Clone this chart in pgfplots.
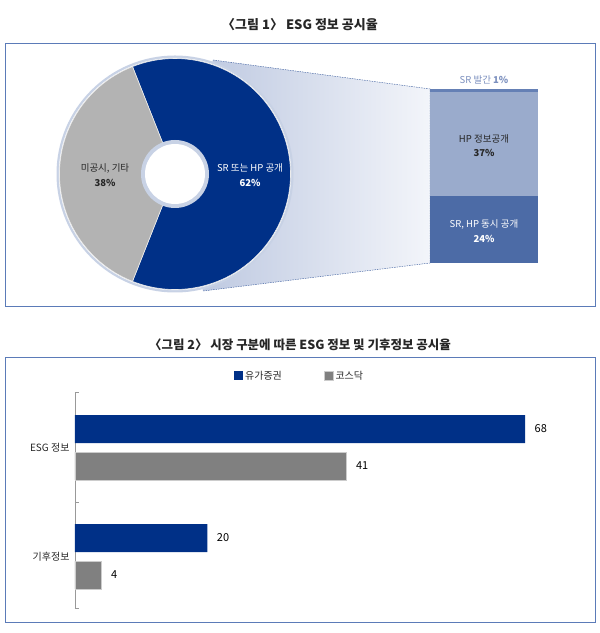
\documentclass[border=0pt]{standalone}
\usepackage{pgfplots}
\pgfplotsset{compat=1.18}
\usepackage{fontspec}
\setmainfont{Noto Sans CJK KR}
\definecolor{navy}{RGB}{0,48,135}
\definecolor{slicegrey}{RGB}{179,179,179}
\definecolor{ringc}{RGB}{200,210,229}
\definecolor{stkdark}{RGB}{76,107,166}
\definecolor{stklight}{RGB}{154,171,204}
\definecolor{stktop}{RGB}{101,128,181}
\definecolor{framec}{RGB}{91,123,184}
\definecolor{shadeL}{RGB}{184,196,222}
\definecolor{shadeR}{RGB}{243,245,250}
\definecolor{dashc}{RGB}{80,110,168}
\definecolor{srlab}{RGB}{123,143,190}
\definecolor{darktext}{RGB}{38,38,38}
\definecolor{kosdaq}{RGB}{128,128,128}

\begin{document}
\begin{tikzpicture}[x=1pt,y=1pt]
\useasboundingbox (0,0) rectangle (600,633);
% frames and titles
\draw[framec, line width=0.9pt] (5,327) rectangle (595,590);
\draw[framec, line width=0.9pt] (5,11) rectangle (595,276);
\node[font=\bfseries\fontsize{13}{15}\selectfont, text=darktext] at (300,608) {〈그림 1〉 ESG 정보 공시율};
\node[font=\bfseries\fontsize{12.5}{15}\selectfont, text=darktext] at (300,288) {〈그림 2〉 시장 구분에 따른 ESG 정보 및 기후정보 공시율};

% ---------- donut ----------
\pgfmathsetmacro{\disclosed}{62}
\pgfmathsetmacro{\ha}{\disclosed*1.8}
\pgfmathsetmacro{\hb}{360-\ha}
\begin{axis}[at={(0pt,0pt)}, anchor=south west, scale only axis,
  width=600pt, height=633pt, xmin=0, xmax=600, ymin=0, ymax=633,
  hide axis, clip=false]
  % gradient wedge
  \shade[left color=shadeL, right color=shadeR]
    (axis cs:213,573) -- (axis cs:430,544) -- (axis cs:430,370) -- (axis cs:203,342) -- (axis cs:175,459) -- cycle;
  \draw[dashc, line width=0.5pt, dash pattern=on 1.5pt off 1pt]
    (axis cs:213,573) -- (axis cs:430,544) -- (axis cs:430,370) -- (axis cs:203,342);
  % outer ring
  \fill[ringc] (axis cs:175,459) circle[radius=118.5pt];
  \fill[white] (axis cs:175,459) circle[radius=116.2pt];
  % slices
  \fill[navy, draw=white!85!gray, line width=0.6pt] (axis cs:175,459) -- ++(-\ha:115.5pt)
     arc[start angle=-\ha, end angle=\ha, radius=115.5pt] -- cycle;
  \fill[slicegrey, draw=white!85!gray, line width=0.6pt] (axis cs:175,459) -- ++(\ha:115.5pt)
     arc[start angle=\ha, end angle=\hb, radius=115.5pt] -- cycle;
  % hole
  \fill[ringc] (axis cs:175,459) circle[radius=34pt];
  \fill[white] (axis cs:175,459) circle[radius=30pt];
  % labels
  \node[align=center, font=\fontsize{9.5}{14.5}\selectfont, text=darktext] at (axis cs:105,458)
    {미공시, 기타\\{\bfseries 38\%}};
  \node[align=center, font=\fontsize{9.5}{14.5}\selectfont, text=white] at (axis cs:250,458)
    {SR 또는 HP 공개\\{\bfseries 62\%}};
\end{axis}

% ---------- stacked breakdown bar ----------
\begin{axis}[at={(430pt,370pt)}, anchor=south west, scale only axis,
  width=108pt, height=174pt, xmin=0, xmax=1, ymin=0, ymax=62,
  hide axis, clip=false, ybar stacked, bar width=108pt]
  \addplot[fill=stkdark, draw=none] coordinates {(0.5,24)};
  \addplot[fill=stklight, draw=none] coordinates {(0.5,37)};
  \addplot[fill=stktop, draw=none] coordinates {(0.5,1)};
\end{axis}
\node[font=\fontsize{9.5}{11}\selectfont, text=srlab] at (484,553.5)
  {SR 발간 {\bfseries 1\%}};
\node[align=center, font=\fontsize{9.5}{14.5}\selectfont, text=darktext] at (484,487.5)
  {HP 정보공개\\{\bfseries 37\%}};
\node[align=center, font=\fontsize{9.5}{14.5}\selectfont, text=white] at (484,402)
  {SR, HP 동시 공개\\{\bfseries 24\%}};

% ---------- horizontal bar chart ----------
\begin{axis}[at={(75pt,25pt)}, anchor=south west, scale only axis,
  width=516.4pt, height=216pt, xmin=0, xmax=78, ymin=-0.472, ymax=1.509,
  xbar, bar width=28pt,
  axis x line=none, axis y line*=left,
  y axis line style={draw=gray!80, line width=0.8pt},
  ytick={0,1}, yticklabels={기후정보, ESG 정보},
  major tick length=0pt,
  minor ytick={-0.472,0.5,1.509}, minor tick length=4pt, tick align=inside,
  minor tick style={draw=gray!80, line width=0.8pt},
  yticklabel style={font=\fontsize{10}{12}\selectfont, text=darktext, xshift=-2pt},
  /pgf/number format/assume math mode=true,
  nodes near coords,
  every node near coord/.append style={font=\fontsize{11}{12}\selectfont, text=black, xshift=6pt},
  legend columns=2,
  legend style={draw=none, fill=none, at={(0.435,1.072)}, anchor=center,
    font=\fontsize{10}{12}\selectfont, text=darktext,
    /tikz/every even column/.append style={column sep=40pt}},
  legend image code/.code={\fill[#1] (0pt,-4pt) rectangle (9pt,5pt);},
  clip=false]
  \addplot[fill=navy, draw=none, bar shift=18.5pt] coordinates {(68,1) (20,0)};
  \addplot[fill=kosdaq, draw=gray!40, line width=0.6pt, bar shift=-18.5pt] coordinates {(41,1) (4,0)};
  \legend{유가증권, 코스닥}
\end{axis}
\end{tikzpicture}
\end{document}
